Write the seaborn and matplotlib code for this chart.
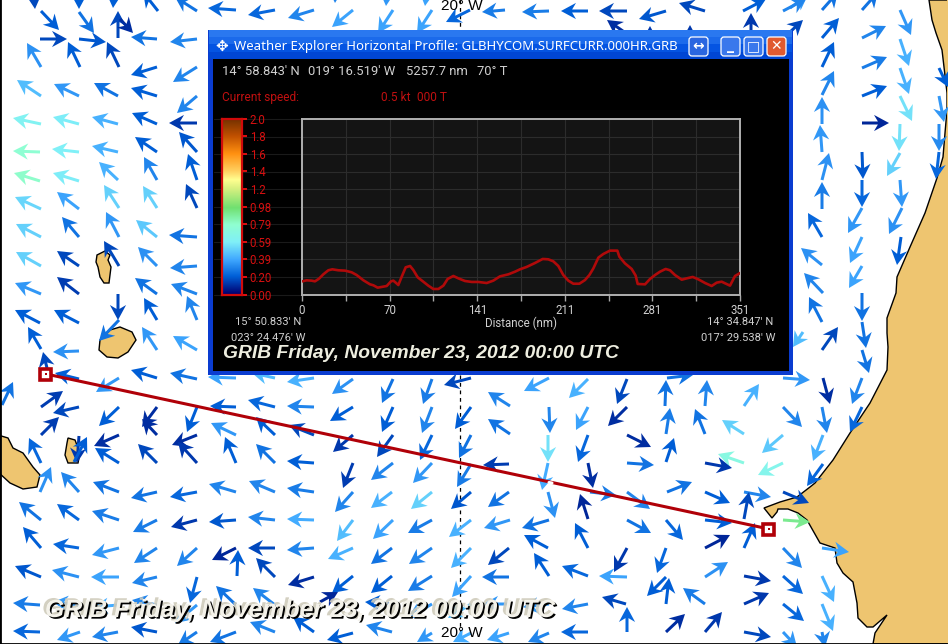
import numpy as np
import pandas as pd
import matplotlib
matplotlib.use("Agg")
import matplotlib.pyplot as plt
import matplotlib.patheffects as pe
from matplotlib.colors import LinearSegmentedColormap, Normalize
from matplotlib.patches import Polygon, Rectangle, FancyBboxPatch
import seaborn as sns

# ---- profile data (distance nm, speed kt)
profile_dist = [0.3,3.7,7.7,10.4,13.6,17.1,21.1,24.3,29.1,34.5,39.8,43.8,49.2,54.5,57.2,60.6,63.8,67.9,71.3,73.2,75.1,77.2,79.9,83.1,86.6,89.2,92.7,97.2,101.2,105.2,109.3,113.3,116.7,121.3,125.3,130.6,136,141.3,148,153.3,158.7,165.4,170.7,174.7,180,186.7,192.9,197.4,201.4,205.4,209.4,213.4,217.4,222.3,226.8,230.3,233.5,237.5,241.5,246.8,252.7,254.3,258.8,264.2,267.4,269,274.9,278.9,282.9,286.9,291.4,294.9,298.9,304.3,308.3,313.1,317.6,323,328.3,332.3,336.3,343,347,349.7,351]
profile_speed = [.150,.162,.158,.150,.180,.230,.276,.287,.276,.272,.253,.222,.162,.116,.105,.078,.086,.097,.150,.158,.135,.108,.203,.310,.325,.279,.196,.146,.101,.063,.063,.101,.177,.211,.184,.154,.143,.143,.131,.158,.207,.230,.260,.287,.314,.359,.405,.401,.378,.325,.222,.158,.123,.123,.165,.222,.298,.420,.462,.500,.500,.431,.355,.291,.215,.120,.116,.177,.222,.260,.291,.276,.222,.169,.184,.200,.173,.131,.097,.135,.146,.101,.211,.233,.245]
dist_tick_values = [0,35.1,70.2,105.3,140.4,175.5,210.6,245.7,280.8,315.9,351]
dist_tick_labels = ["0","","70","","141","","211","","281","","351"]
speed_tick_values = [0,.2,.4,.6,.8,1,1.2,1.4,1.6,1.8,2]
speed_tick_labels = ["0.00","0.20","0.39","0.59","0.79","0.98","1.2","1.4","1.6","1.8","2.0"]
scale_stops = [(0,"#000070"),(.1,"#0060d8"),(.195,"#40a8ff"),(.295,"#80f0f8"),(.395,"#90ffd0"),(.49,"#70e070"),(.6,"#d8f080"),(.65,"#ffff90"),(.7,"#ffd060"),(.8,"#ff9010"),(.9,"#c05000"),(1,"#703000")]

# ---- map: current arrows (tail x, tail y, head x, head y, speed)
arrows_nw = [(41,11,59,30,.2),(33,-15,35,9,.15),(79,-18,79,9,.2),(115,-18,113,8,.2),(158,11,143,-8,.2),(197,11,175,-3,.25),(79,12,94,33,.25),(118,38,118,11,.15),(120,19,133,33,.1),(40,39,67,39,.15),(79,39,106,42,.18),(157,39,131,37,.25),(197,39,170,42,.3),(41,67,27,43,.33),(80,67,68,42,.2),(119,67,107,42,.15),(157,67,131,75,.2),(197,67,173,82,.3),(41,96,17,80,.45),(79,96,54,84,.35),(118,96,94,83,.25),(157,96,131,88,.2),(197,96,177,113,.3),(41,124,13,118,.62),(79,124,53,117,.58),(118,124,92,117,.42),(157,124,132,113,.2),(197,123,169,123,.12),(197,152,179,132,.18),(40,152,13,151,.78),(79,152,52,149,.6),(118,152,92,146,.42),(157,152,135,137,.2),(197,180,188,154,.2),(40,181,14,173,.8),(79,181,53,173,.58),(118,180,99,162,.42),(157,180,144,157,.3),(197,208,186,184,.15),(41,209,15,197,.52),(79,209,57,192,.38),(119,208,104,185,.5),(157,208,143,186,.5),(41,237,16,224,.5),(79,237,62,217,.25),(119,237,106,212,.35),(157,237,136,220,.48),(197,237,169,235,.25),(41,266,16,252,.5),(79,266,57,251,.15),(119,266,104,241,.15),(157,266,138,247,.33),(197,266,170,268,.3),(41,294,15,283,.35),(79,294,57,277,.13),(118,294,118,320,.15),(157,294,135,278,.25),(197,294,171,284,.3),(40,323,15,310,.2),(79,323,54,310,.2),(157,320,144,298,.2),(197,320,187,296,.3)]
arrows_sw = [(41,349,28,327,.2),(79,351,53,352,.33),(119,320,99,341,.25),(157,350,142,327,.35),(197,350,173,336,.38),(47,368,43,352,.15),(79,379,55,373,.2),(119,378,96,392,.35),(157,378,131,370,.2),(197,379,170,373,.25),(236,378,208,377,.38),(275,378,252,373,.45),(314,378,287,382,.42),(2,405,13,382,.25),(41,407,63,391,.13),(79,407,53,413,.15),(119,407,99,426,.2),(157,407,142,427,.1),(197,407,187,432,.2),(236,407,210,406,.2),(275,407,248,400,.22),(314,407,287,406,.3),(41,435,59,417,.13),(157,435,142,419,.1),(197,435,172,445,.1),(236,435,211,423,.35),(275,435,256,417,.2),(314,435,289,425,.15),(41,463,29,438,.22),(79,436,77,463,.12),(74,462,87,437,.2),(119,435,94,446,.1),(119,463,95,448,.2),(157,463,138,444,.15),(197,463,178,442,.12),(236,463,225,437,.2),(275,463,256,444,.25),(314,463,287,461,.2),(40,492,51,467,.33),(79,492,61,472,.3),(119,492,93,482,.25),(157,492,131,498,.25),(197,492,170,497,.22),(236,492,209,484,.3),(275,492,249,481,.3),(314,492,287,488,.28),(41,520,19,502,.25),(79,520,57,504,.22),(119,520,92,511,.28),(157,520,133,532,.28),(197,520,171,527,.12),(236,520,209,522,.18),(275,520,248,517,.3),(314,520,287,519,.4),(41,548,23,527,.2),(79,548,53,544,.22),(119,548,92,555,.35),(157,548,134,563,.3),(197,548,177,566,.3),(236,548,212,560,.08),(237,576,238,550,.2),(275,548,248,548,.15),(314,548,287,550,.3),(41,577,15,566,.18),(79,577,52,570,.33),(119,577,91,577,.38),(157,577,132,583,.3),(275,577,256,558,.15),(314,577,288,585,.1),(197,577,190,603,.22),(236,605,216,586,.25),(275,605,253,588,.3),(40,605,13,603,.28),(79,605,53,602,.35),(119,605,93,607,.4),(157,605,132,600,.3),(197,605,175,623,.35),(40,632,13,631,.22),(80,632,57,640,.35),(118,632,92,637,.3),(157,632,131,627,.18),(197,632,178,645,.28),(236,632,210,642,.25),(275,632,250,622,.3),(314,632,293,617,.2)]
arrows_mid = [(353,379,332,394,.33),(393,379,382,403,.25),(432,379,423,404,.28),(471,378,444,385,.15),(510,406,488,392,.3),(549,378,524,391,.38),(588,379,569,398,.42),(627,379,617,404,.15),(353,407,330,421,.2),(393,407,382,432,.2),(432,407,422,433,.3),(471,407,455,429,.2),(510,434,488,419,.25),(549,407,550,433,.3),(588,407,576,430,.38),(627,407,608,426,.1),(353,435,333,452,.12),(393,435,377,457,.15),(432,435,420,460,.22),(471,435,459,458,.25),(509,464,483,465,.13),(548,435,548,462,.55),(588,435,578,462,.22),(627,435,651,447,.1),(353,463,343,488,.13),(393,463,371,480,.3),(432,463,413,483,.35),(471,464,457,487,.28),(548,463,542,490,.4),(588,463,593,488,.1),(627,463,654,465,.25),(353,492,335,512,.3),(392,492,371,508,.42),(432,492,411,509,.5),(471,492,451,509,.18),(509,492,488,507,.25),(548,492,555,518,.33),(588,519,580,494,.08),(627,492,650,509,.3),(627,520,651,533,.25),(590,492,616,495,.28),(353,520,337,541,.45),(393,520,373,539,.38),(432,520,408,533,.28),(471,520,449,537,.42),(510,520,484,528,.35),(549,520,522,528,.25),(588,548,575,523,.2),(353,548,328,559,.42),(392,548,371,564,.25),(432,548,409,564,.3),(471,548,451,568,.42),(509,548,488,565,.15),(548,548,524,535,.2),(627,548,614,572,.12),(549,576,534,553,.2),(588,576,562,566,.22),(627,577,599,576,.38),(353,576,332,593,.2),(392,576,371,593,.2),(432,576,408,591,.28),(471,576,452,597,.38),(509,577,482,577,.25),(320,602,338,592,.08),(626,604,602,597,.15),(627,632,627,607,.22),(588,604,562,609,.3),(392,604,365,602,.2),(432,604,408,618,.35),(471,604,448,618,.45),(510,604,483,604,.35),(549,604,523,607,.35),(353,633,327,640,.2),(392,632,366,625,.3),(432,633,417,642,.35),(471,633,453,642,.4),(509,633,487,640,.38),(549,633,528,642,.3),(588,632,561,632,.22)]
arrows_se = [(665,406,666,380,.25),(705,406,707,380,.3),(744,406,759,384,.42),(667,378,693,375,.25),(783,378,810,380,.35),(823,378,830,404,.1),(862,378,852,404,.3),(666,434,670,408,.28),(705,434,695,409,.25),(744,434,722,420,.5),(783,407,802,427,.3),(822,407,827,433,.3),(862,407,850,432,.22),(666,462,674,438,.2),(744,463,718,454,.7),(705,463,732,468,.12),(783,435,762,453,.48),(823,435,813,461,.42),(823,464,807,486,.22),(783,463,758,475,.65),(667,492,692,482,.25),(705,492,730,503,.2),(744,492,771,497,.3),(744,519,749,492,.15),(783,492,809,503,.15),(705,520,732,523,.2),(744,548,755,523,.2),(783,520,810,522,.92),(666,520,683,540,.22),(705,548,730,535,.08),(666,548,657,573,.22),(783,548,802,568,.3),(822,548,849,552,.38),(705,577,728,562,.33),(666,577,647,596,.2),(666,604,669,578,.2),(705,604,683,588,.28),(744,576,771,581,.12),(783,576,803,594,.22),(822,576,834,602,.42),(744,604,769,593,.12),(783,604,804,621,.22),(822,604,833,631,.42),(666,632,685,614,.1),(705,632,722,612,.12),(744,632,771,637,.15),(783,632,797,647,.35),(822,632,825,647,.3)]
arrows_ne = [(790,32,803,20,.15),(790,8,808,-5,.35),(822,10,838,-8,.25),(862,10,878,-8,.25),(900,10,911,35,.35),(822,38,839,18,.2),(862,38,886,26,.3),(900,39,909,66,.42),(822,67,834,42,.2),(862,68,887,57,.28),(900,68,909,94,.42),(822,95,834,71,.3),(862,96,887,86,.2),(900,96,912,121,.55),(939,68,948,87,.2),(939,96,944,122,.35),(822,124,822,97,.33),(822,152,820,125,.35),(862,123,889,123,.08),(900,124,899,151,.55),(939,124,939,151,.32),(822,180,829,153,.33),(862,152,863,179,.18),(900,153,887,176,.5),(939,152,936,179,.22),(822,209,822,182,.28),(862,180,862,207,.22),(900,180,902,207,.35),(822,237,808,213,.22),(862,208,848,233,.35),(902,208,889,234,.33),(822,265,801,248,.33),(862,237,850,263,.38),(901,237,897,265,.2),(823,293,804,273,.3),(862,266,849,288,.38),(822,322,809,297,.25),(862,293,862,321,.25),(822,350,838,327,.15),(862,322,866,348,.25),(862,350,869,373,.25),(803,332,793,347,.45)]
arrows_top = [(236,10,208,8,.22),(275,10,248,15,.22),(314,10,288,18,.3),(353,10,332,27,.38),(393,10,378,33,.38),(432,10,417,33,.38),(470,10,446,22,.22),(505,10,482,12,.28),(388,-18,386,6,.35),(428,-18,425,6,.38),(336,-18,335,3,.3),(549,11,522,12,.28),(588,11,561,11,.2),(627,11,599,11,.15),(666,11,639,19,.18),(705,11,679,3,.15),(743,11,766,-1,.2),(783,11,806,-1,.3),(751,35,751,13,.12),(630,36,607,20,.1),(650,50,650,26,.12),(690,50,690,25,.12)]

# ---- map: coast outlines
east_coast_x = [929,932,936,942,944,947,947,945,943,937,925,910,897,896,887,887,888,887,870,850,833,815,810,797,780,764,772,777,778,788,798,807,820,835,837,843,853,857,858,867,873,887,875,873,948,948]
east_coast_y = [0,20,33,50,67,93,110,133,157,178,213,247,277,293,318,333,347,370,403,433,460,483,487,497,502,508,518,512,509,509,513,520,543,548,563,573,582,603,618,627,627,615,633,644,644,0]
island_a_x = [105,97,96,98,100,104,109,111,108,110]
island_a_y = [251,255,262,267,277,283,283,267,260,255]
island_b_x = [120,132,136,128,118,107,99,100,110]
island_b_y = [327,332,340,352,358,357,350,340,330]
island_c_x = [-2,8,13,23,33,40,37,23,10,-2]
island_c_y = [435,438,448,453,467,475,487,489,483,472]
island_d_x = [68,75,80,78,68,65,67]
island_d_y = [438,440,453,463,463,455,443]
route_x = [46,769]
route_y = [374,529]

W, H = 948, 644
sns.set_theme(style="white")
plt.rcParams["font.family"] = ["Liberation Sans", "DejaVu Sans"]
cmap = LinearSegmentedColormap.from_list("current", scale_stops)
norm = Normalize(0, 2)

fig = plt.figure(figsize=(W / 100, H / 100), dpi=100, facecolor="white")
ax = fig.add_axes([0, 0, 1, 1], zorder=0)
LAND = "#eec570"
for xs, ys in [(east_coast_x, east_coast_y), (island_a_x, island_a_y), (island_b_x, island_b_y),
               (island_c_x, island_c_y), (island_d_x, island_d_y)]:
    ax.add_patch(Polygon(np.column_stack([xs, ys]), closed=True, fc=LAND, ec="black", lw=1.0, zorder=1))
ax.add_patch(Rectangle((947, 0), 3, 644, fc=LAND, ec="none", zorder=1.1))

ax.plot([460, 460], [0, 644], color="black", lw=0.9, ls=(0, (3, 3)), zorder=1.5)

arr = np.array(arrows_nw + arrows_sw + arrows_mid + arrows_se + arrows_ne + arrows_top, dtype=float)
ax.quiver(arr[:, 0], arr[:, 1], arr[:, 2] - arr[:, 0], arr[:, 3] - arr[:, 1], arr[:, 4], cmap=cmap, norm=norm,
          angles="xy", scale_units="xy", scale=1, units="dots", width=3.0, headwidth=5.4, headlength=5.0,
          headaxislength=3.7, pivot="tail", zorder=2)

RED = "#b00008"
ax.plot(route_x, route_y, color=RED, lw=2.2, zorder=3, solid_capstyle="butt")
ax.plot([549, 552], [482.5, 483], color="white", lw=2.2, zorder=3.1)
for mx, my in zip(route_x, route_y):
    ax.add_patch(Rectangle((mx - 5.5, my - 5.5), 11, 11, fc="white", ec=RED, lw=2.6, zorder=4))
    ax.add_patch(Rectangle((mx - 1, my - 1), 2, 2, fc=RED, ec="none", zorder=4.1))

ax.text(462, 6, "20° W", ha="center", va="center", fontsize=11, color="black", zorder=2.5)
ax.text(462, 633, "20° W", ha="center", va="center", fontsize=11, color="black", zorder=2.5)

stamp = "GRIB Friday, November 23, 2012 00:00 UTC"
ax.text(45, 610, stamp, fontsize=17.9, fontweight="bold", fontstyle="italic", color="#f4f2ea",
        ha="left", va="center", zorder=5,
        path_effects=[pe.SimplePatchShadow(offset=(-2, 1.2), shadow_rgbFace="#cfcbbb", alpha=.9),
                      pe.SimplePatchShadow(offset=(1.2, -1.2), shadow_rgbFace="black", alpha=1),
                      pe.Normal()])

# profile window frame
ax.add_patch(Rectangle((208, 30), 585, 345, fc="#0a3cd0", ec="none", zorder=10))
ax.imshow(np.array([[0.0], [0.15], [0.5], [1.0]]), extent=(209, 792, 59, 30), aspect="auto", zorder=10.5,
          cmap=LinearSegmentedColormap.from_list("t", ["#2a78f0", "#0a5ae6", "#0050e0", "#0046d4"]))
ax.add_patch(Rectangle((213, 59), 576, 312, fc="black", ec="none", zorder=11))
ax.text(222, 46, "\u2725", color="white", fontsize=11, ha="center", va="center", family="DejaVu Sans", zorder=12)
ax.text(234, 46, "Weather Explorer Horizontal Profile: GLBHYCOM.SURFCURR.000HR.GRB", color="white", fontsize=9.5,
        family="Noto Sans", fontweight="bold", ha="left", va="center", zorder=12)
for bx, col, sym in [(689, "#2a66e0", "\u2194"), (721, "#3a78ec", "_"), (744, "#3a78ec", "\u25a1"), (767, "#e05a30", "\u2715")]:
    ax.add_patch(FancyBboxPatch((bx, 37), 19, 19, boxstyle="round,pad=0,rounding_size=3", fc=col, ec="white", lw=0.9, zorder=12))
    ax.text(bx + 9.5, 46, sym, color="white", fontsize=10, fontweight="bold", ha="center", va="center",
            family="DejaVu Sans", zorder=13)

GREY = "#d0d0d0"
for tx, s in [(222, "14° 58.843' N"), (308, "019° 16.519' W"), (406, "5257.7 nm"), (477, "70° T")]:
    ax.text(tx, 71, s, color=GREY, fontsize=9.4, ha="left", va="center", family="Roboto", zorder=12)
for tx, s in [(222, "Current speed:"), (381, "0.5 kt"), (417, "000 T")]:
    ax.text(tx, 97, s, color="#c01010", fontsize=8.6, ha="left", va="center", family="Roboto", zorder=12)
ax.text(521, 323, "Distance (nm)", color=GREY, fontsize=8.3, ha="center", va="center", family="Roboto", zorder=12)
for tx, ty, s in [(268, 322, "15° 50.833' N"), (268, 338, "023° 24.476' W"), (740, 322, "14° 34.847' N"), (738, 338, "017° 29.538' W")]:
    ax.text(tx, ty, s, color=GREY, fontsize=8.0, ha="center", va="center", family="Roboto", zorder=12)
ax.text(223, 353, stamp, color="#eeeee0", fontsize=13.9, fontweight="bold", fontstyle="italic", ha="left",
        va="center", zorder=12)
for v in speed_tick_values:
    ypx = 294.5 - v * 87.75
    ax.plot([214, 302], [ypx, ypx], color="#1a1a1a", lw=0.8, zorder=11.5)

ax.set_xlim(0, W)
ax.set_ylim(H, 0)
ax.set_xticks([])
ax.set_yticks([])
for name, sp in ax.spines.items():
    sp.set_visible(name in ("left", "bottom"))
    sp.set_color("black")
    sp.set_linewidth(2.0)


def px_axes(x0, y0, x1, y1, z):
    return fig.add_axes([x0 / W, 1 - y1 / H, (x1 - x0) / W, (y1 - y0) / H], zorder=z)


# profile plot
pax = px_axes(302, 119, 740, 294.5, 2)
pax.set_facecolor("#141414")
profile = pd.DataFrame({"dist": profile_dist, "speed": profile_speed})
sns.lineplot(data=profile, x="dist", y="speed", sort=False, color="#b00a0a", lw=1.9, ax=pax, zorder=3)
pax.set_xlim(0, 351)
pax.set_ylim(0, 2)
pax.set_xlabel("")
pax.set_ylabel("")
pax.set_xticks(dist_tick_values)
pax.set_xticklabels(dist_tick_labels, family="Roboto", fontsize=8.3, color=GREY)
pax.set_yticks(speed_tick_values)
pax.set_yticklabels([])
pax.tick_params(axis="x", length=4, width=1, color="#a8a8a8", pad=2.5, bottom=True)
pax.tick_params(axis="y", length=0)
pax.grid(True, color="#2c2c2c", lw=0.8)
for sp in pax.spines.values():
    sp.set_color("#b0b0b0")
    sp.set_linewidth(1.4)

# colour scale
cax = px_axes(222, 118.5, 242, 294.5, 3)
cax.imshow(np.linspace(1, 0, 256).reshape(-1, 1), cmap=cmap, vmin=0, vmax=1, aspect="auto", extent=(0, 1, 0, 2))
cax.set_xticks([])
cax.yaxis.tick_right()
cax.set_yticks(speed_tick_values)
cax.set_yticklabels(speed_tick_labels, family="Roboto", fontsize=8.3, color="#d81010")
cax.tick_params(axis="y", length=3.5, width=1.4, color="#e01010", pad=2, right=True)
for sp in cax.spines.values():
    sp.set_color("#d00a0a")
    sp.set_linewidth(1.6)

fig.savefig("out.png", dpi=100, facecolor="white")
